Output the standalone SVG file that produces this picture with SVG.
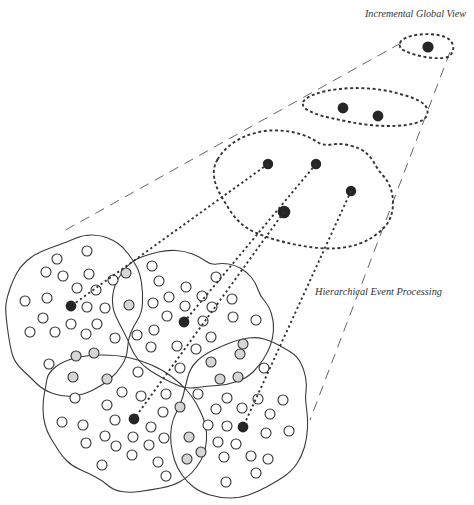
<svg xmlns="http://www.w3.org/2000/svg" width="474" height="505" viewBox="0 0 474 505">
<style>
.bg{fill:#fff}
.cloud{fill:none;stroke:#3a3a3a;stroke-width:1.1}
.dcloud{fill:none;stroke:#333;stroke-width:1.9;stroke-dasharray:3 2.6}
.link{fill:none;stroke:#333;stroke-width:1.9;stroke-dasharray:2.2 2.9}
.frust{fill:none;stroke:#555;stroke-width:0.9;stroke-dasharray:10 7}
.o{fill:#fff;stroke:#333;stroke-width:1.1}
.g{fill:#d6d6d6;stroke:#333;stroke-width:1.1}
.k{fill:#262626}
.lbl{font-family:"Liberation Serif",serif;font-style:italic;font-size:11px;fill:#333}
</style>
<rect class="bg" x="0" y="0" width="474" height="505"/>

<g id="frustum">
<line class="frust" x1="401" y1="43" x2="62" y2="232"/>
<line class="frust" x1="450" y1="52" x2="310" y2="420"/>
</g>

<g id="level-global">
<path class="dcloud" d="M400,43 C402,35 430,31 445,37 C455,41 456,52 448,57 C438,60 418,57 405,51 C400,49 399,46 400,43 Z"/>
<circle class="k" cx="428" cy="47" r="5.6"/>
</g>

<g id="level-3">
<path class="dcloud" d="M303,102 C310,90 360,82 400,94 C420,99 432,106 426,117 C418,128 380,128 350,122 C325,117 300,112 303,102 Z"/>
<circle class="k" cx="343" cy="108" r="5.4"/>
<circle class="k" cx="378" cy="116" r="5.4"/>
</g>

<g id="level-2">
<path class="dcloud" d="M217.5,159.5 Q222,152 228.5,146.5 Q235,141 242.5,137.5 Q250,134 259,132 Q268,130 279,130.5 Q290,131 300,134 Q310,137 316.5,141.5 Q323,146 331.5,144.5 Q340,143 350,145.5 Q360,148 365.5,152.5 Q371,157 374.5,163.5 Q378,170 383,175.5 Q388,181 390.5,188 Q393,195 393,202.5 Q393,210 391,216 Q389,222 384.5,227 Q380,232 373.5,236.5 Q367,241 358.5,244 Q350,247 340,248 Q330,249 319,248 Q308,247 297.5,245 Q287,243 276.5,240 Q266,237 256.5,233 Q247,229 240.5,223 Q234,217 229,209 Q224,201 219.5,193 Q215,185 214,176 Q213,167 217.5,159.5 Z"/>
<circle class="k" cx="268" cy="164" r="5.2"/>
<circle class="k" cx="316" cy="164" r="5.2"/>
<circle class="k" cx="351" cy="191" r="5.2"/>
<circle class="k" cx="284" cy="212" r="6.3"/>
</g>

<g id="cloud-outlines">
<path id="outline-a" class="cloud" d="M41.5,251.5 Q50,248 58.5,245 Q67,242 75,238.5 Q83,235 91.5,235 Q100,235 106.5,237.5 Q113,240 118,243.5 Q123,247 128,253.5 Q133,260 136.5,266.5 Q140,273 141.5,283 Q143,293 142.5,303 Q142,313 137.5,320 Q133,327 130.5,333.5 Q128,340 127.5,348.5 Q127,357 122,365 Q117,373 110,379 Q103,385 93,390 Q83,395 73,396 Q63,397 53,393.5 Q43,390 36.5,383.5 Q30,377 22.5,370 Q15,363 12.5,355 Q10,347 7.5,328.5 Q5,310 6,303.5 Q7,297 10,288.5 Q13,280 16.5,273.5 Q20,267 26.5,261 Q33,255 41.5,251.5 Z"/>
<path id="outline-b" class="cloud" d="M141.5,257 Q150,254 158.5,252 Q167,250 176,250.5 Q185,251 192.5,254 Q200,257 205.5,261 Q211,265 216.5,264 Q222,263 228.5,264 Q235,265 241,268.5 Q247,272 251.5,277.5 Q256,283 258,289.5 Q260,296 264.5,301 Q269,306 271.5,314 Q274,322 273.5,330 Q273,338 270.5,345 Q268,352 263.5,359 Q259,366 253,372 Q247,378 237,381.5 Q227,385 217,385.5 Q207,386 197,387.5 Q187,389 179.5,386 Q172,383 164.5,379 Q157,375 150,370.5 Q143,366 138,359.5 Q133,353 130.5,346.5 Q128,340 124,332.5 Q120,325 116,316.5 Q112,308 112.5,298.5 Q113,289 117,281 Q121,273 127,266.5 Q133,260 141.5,257 Z"/>
<path id="outline-c" class="cloud" d="M55.5,367 Q63,361 75,358 Q87,355 102,355 Q117,355 128.5,357.5 Q140,360 151.5,365 Q163,370 171.5,376.5 Q180,383 186,389.5 Q192,396 196,403 Q200,410 203,417.5 Q206,425 206.5,432.5 Q207,440 205.5,447.5 Q204,455 200.5,461 Q197,467 192,472.5 Q187,478 179.5,482 Q172,486 161,488 Q150,490 140,491.5 Q130,493 121.5,491.5 Q113,490 108,485.5 Q103,481 95.5,477 Q88,473 80,469.5 Q72,466 67,461 Q62,456 58.5,450.5 Q55,445 51,438.5 Q47,432 45,424.5 Q43,417 43,408.5 Q43,400 44.5,392.5 Q46,385 47,379 Q48,373 55.5,367 Z"/>
<path id="outline-d" class="cloud" d="M187.5,378 Q190,368 196.5,361.5 Q203,355 212.5,350.5 Q222,346 231,342.5 Q240,339 248.5,338 Q257,337 264,339 Q271,341 277.5,344.5 Q284,348 290.5,352 Q297,356 300.5,362.5 Q304,369 305.5,377 Q307,385 306,391.5 Q305,398 306.5,408 Q308,418 307.5,428 Q307,438 304.5,447 Q302,456 297,463.5 Q292,471 284,476.5 Q276,482 266.5,487 Q257,492 248.5,495 Q240,498 230,498 Q220,498 210,495 Q200,492 193.5,487 Q187,482 182,475 Q177,468 174.5,460 Q172,452 171,443.5 Q170,435 171.5,426.5 Q173,418 177,411 Q181,404 183,396 Q185,388 187.5,378 Z"/>
</g>

<g id="cloud-a">
<circle class="o" cx="87" cy="251" r="5"/>
<circle class="o" cx="57" cy="259" r="5"/>
<circle class="o" cx="46" cy="272" r="5"/>
<circle class="o" cx="63" cy="276" r="5"/>
<circle class="o" cx="89" cy="274" r="5"/>
<circle class="o" cx="77" cy="288" r="5"/>
<circle class="o" cx="96" cy="290" r="5"/>
<circle class="o" cx="113" cy="280" r="5"/>
<circle class="g" cx="126" cy="273" r="5"/>
<circle class="o" cx="25" cy="301" r="5"/>
<circle class="o" cx="47" cy="298" r="5"/>
<circle class="o" cx="87" cy="307" r="5"/>
<circle class="o" cx="105" cy="308" r="5"/>
<circle class="g" cx="129" cy="305" r="5"/>
<circle class="o" cx="43" cy="318" r="5"/>
<circle class="o" cx="71" cy="324" r="5"/>
<circle class="o" cx="97" cy="324" r="5"/>
<circle class="o" cx="30" cy="332" r="5"/>
<circle class="o" cx="55" cy="332" r="5"/>
<circle class="o" cx="86" cy="334" r="5"/>
<circle class="o" cx="115" cy="338" r="5"/>
<circle class="g" cx="76" cy="356" r="5"/>
<circle class="g" cx="94" cy="353" r="5"/>
<circle class="o" cx="49" cy="364" r="5"/>
</g>

<g id="cloud-b">
<circle class="o" cx="152" cy="266" r="5"/>
<circle class="o" cx="159" cy="281" r="5"/>
<circle class="o" cx="186" cy="287" r="5"/>
<circle class="o" cx="216" cy="277" r="5"/>
<circle class="o" cx="169" cy="297" r="5"/>
<circle class="o" cx="202" cy="296" r="5"/>
<circle class="o" cx="232" cy="299" r="5"/>
<circle class="o" cx="153" cy="303" r="5"/>
<circle class="o" cx="185" cy="306" r="5"/>
<circle class="o" cx="212" cy="307" r="5"/>
<circle class="o" cx="167" cy="316" r="5"/>
<circle class="o" cx="203" cy="321" r="5"/>
<circle class="o" cx="233" cy="317" r="5"/>
<circle class="o" cx="256" cy="320" r="5"/>
<circle class="o" cx="154" cy="330" r="5"/>
<circle class="o" cx="137" cy="335" r="5"/>
<circle class="o" cx="211" cy="337" r="5"/>
<circle class="o" cx="151" cy="347" r="5"/>
<circle class="o" cx="177" cy="346" r="5"/>
<circle class="o" cx="196" cy="349" r="5"/>
<circle class="g" cx="243" cy="344" r="5"/>
<circle class="g" cx="240" cy="354" r="5"/>
<circle class="g" cx="211" cy="362" r="5"/>
<circle class="o" cx="180" cy="368" r="5"/>
<circle class="o" cx="264" cy="368" r="5"/>
<circle class="o" cx="138" cy="372" r="5"/>
<circle class="g" cx="220" cy="379" r="5"/>
<circle class="g" cx="238" cy="377" r="5"/>
</g>

<g id="cloud-c">
<circle class="g" cx="73" cy="377" r="5"/>
<circle class="g" cx="107" cy="379" r="5"/>
<circle class="o" cx="122" cy="392" r="5"/>
<circle class="o" cx="141" cy="396" r="5"/>
<circle class="o" cx="166" cy="394" r="5"/>
<circle class="o" cx="75" cy="398" r="5"/>
<circle class="o" cx="107" cy="405" r="5"/>
<circle class="o" cx="163" cy="412" r="5"/>
<circle class="g" cx="180" cy="407" r="5"/>
<circle class="o" cx="62" cy="422" r="5"/>
<circle class="o" cx="83" cy="425" r="5"/>
<circle class="o" cx="115" cy="420" r="5"/>
<circle class="o" cx="151" cy="427" r="5"/>
<circle class="o" cx="105" cy="436" r="5"/>
<circle class="o" cx="133" cy="437" r="5"/>
<circle class="o" cx="164" cy="438" r="5"/>
<circle class="o" cx="86" cy="443" r="5"/>
<circle class="o" cx="116" cy="446" r="5"/>
<circle class="o" cx="149" cy="445" r="5"/>
<circle class="o" cx="132" cy="455" r="5"/>
<circle class="o" cx="102" cy="465" r="5"/>
<circle class="o" cx="158" cy="462" r="5"/>
<circle class="o" cx="166" cy="476" r="5"/>
</g>

<g id="cloud-d">
<circle class="o" cx="198" cy="394" r="5"/>
<circle class="o" cx="227" cy="398" r="5"/>
<circle class="o" cx="258" cy="399" r="5"/>
<circle class="o" cx="283" cy="400" r="5"/>
<circle class="o" cx="216" cy="409" r="5"/>
<circle class="o" cx="242" cy="408" r="5"/>
<circle class="o" cx="270" cy="414" r="5"/>
<circle class="o" cx="208" cy="425" r="5"/>
<circle class="o" cx="227" cy="426" r="5"/>
<circle class="o" cx="266" cy="433" r="5"/>
<circle class="o" cx="289" cy="431" r="5"/>
<circle class="g" cx="189" cy="437" r="5"/>
<circle class="o" cx="218" cy="442" r="5"/>
<circle class="o" cx="236" cy="444" r="5"/>
<circle class="g" cx="201" cy="452" r="5"/>
<circle class="g" cx="187" cy="459" r="5"/>
<circle class="o" cx="224" cy="457" r="5"/>
<circle class="o" cx="251" cy="456" r="5"/>
<circle class="o" cx="268" cy="459" r="5"/>
<circle class="o" cx="256" cy="473" r="5"/>
<circle class="o" cx="226" cy="482" r="5"/>
</g>

<g id="connectors">
<line class="link" x1="268" y1="164" x2="71" y2="306"/>
<line class="link" x1="316" y1="164" x2="184" y2="322"/>
<line class="link" x1="284" y1="212" x2="134" y2="419"/>
<line class="link" x1="351" y1="191" x2="243" y2="427"/>
</g>

<g id="cluster-heads">
<circle class="k" cx="71" cy="306" r="5.4"/>
<circle class="k" cx="184" cy="322" r="5.4"/>
<circle class="k" cx="134" cy="419" r="5.4"/>
<circle class="k" cx="243" cy="427" r="5.4"/>
</g>

<g id="labels">
<text class="lbl" x="365" y="17" textLength="101" lengthAdjust="spacingAndGlyphs">Incremental Global View</text>
<text class="lbl" x="315" y="295" textLength="127" lengthAdjust="spacingAndGlyphs">Hierarchical Event Processing</text>
</g>
</svg>
